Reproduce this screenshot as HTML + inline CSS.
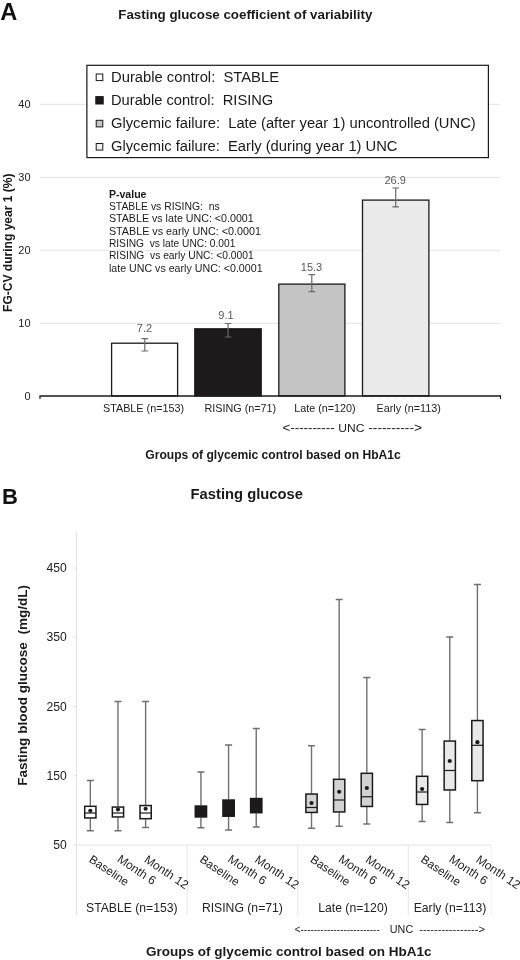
<!DOCTYPE html>
<html lang="en">
<head>
<meta charset="utf-8">
<title>Fasting glucose figure</title>
<style>
html,body{margin:0;padding:0;background:#ffffff;}
body{width:520px;height:960px;overflow:hidden;}
svg{display:block;font-family:'Liberation Sans', Arial, Helvetica, sans-serif;}
text{font-family:'Liberation Sans', Arial, Helvetica, sans-serif;white-space:pre;}
</style>
</head>
<body>
<svg width="520" height="960" viewBox="0 0 520 960">
<defs>
<pattern id="hatchA" width="2" height="2" patternUnits="userSpaceOnUse"><rect width="2" height="2" fill="#f1f1f1"/><path d="M-0.5 0.5L0.5 -0.5M0 2L2 0M1.5 2.5L2.5 1.5" stroke="#dcdcdc" stroke-width="0.6"/></pattern>
<pattern id="hatchB" width="2" height="2" patternUnits="userSpaceOnUse"><rect width="2" height="2" fill="#efefef"/><path d="M-0.5 0.5L0.5 -0.5M0 2L2 0M1.5 2.5L2.5 1.5" stroke="#d8d8d8" stroke-width="0.6"/></pattern>
</defs>
<rect width="520" height="960" fill="#ffffff"/>
<g id="panelA">
<text x="0.3" y="20" font-size="23.6" font-weight="bold" fill="#111">A</text>
<text x="118.3" y="19.2" font-size="13" font-weight="bold" fill="#1a1a1a" textLength="254" lengthAdjust="spacingAndGlyphs">Fasting glucose coefficient of variability</text>
<line x1="40" x2="500" y1="323.30" y2="323.30" stroke="#e3e3e3" stroke-width="1"/>
<line x1="40" x2="500" y1="250.30" y2="250.30" stroke="#e3e3e3" stroke-width="1"/>
<line x1="40" x2="500" y1="177.30" y2="177.30" stroke="#e3e3e3" stroke-width="1"/>
<line x1="40" x2="500" y1="104.30" y2="104.30" stroke="#e3e3e3" stroke-width="1"/>
<text x="30.6" y="399.59999999999997" font-size="11" text-anchor="end" fill="#222">0</text>
<text x="30.6" y="326.59999999999997" font-size="11" text-anchor="end" fill="#222">10</text>
<text x="30.6" y="253.59999999999997" font-size="11" text-anchor="end" fill="#222">20</text>
<text x="30.6" y="180.59999999999997" font-size="11" text-anchor="end" fill="#222">30</text>
<text x="30.6" y="107.59999999999998" font-size="11" text-anchor="end" fill="#222">40</text>
<text transform="translate(11.9,311.9) rotate(-90)" font-size="13" font-weight="bold" fill="#1a1a1a" textLength="138.4" lengthAdjust="spacingAndGlyphs">FG-CV during year 1 (%)</text>
<rect x="111.6" y="343.20" width="66.00" height="52.70" fill="#ffffff" stroke="#1a1a1a" stroke-width="1.3"/>
<path d="M144.80 338.60V351.00M141.50 338.60h6.6M141.50 351.00h6.6" stroke="#6a6a6a" stroke-width="1.2" fill="none"/>
<text x="144.50" y="332.40" font-size="11" text-anchor="middle" fill="#595959">7.2</text>
<text x="143.50" y="411.7" font-size="10.8" text-anchor="middle" fill="#222">STABLE (n=153)</text>
<rect x="194.8" y="328.80" width="66.40" height="67.10" fill="#1c1a1b" stroke="#1a1a1a" stroke-width="1.3"/>
<path d="M228.10 323.50V337.00M224.80 323.50h6.6M224.80 337.00h6.6" stroke="#6a6a6a" stroke-width="1.2" fill="none"/>
<text x="226.00" y="319.00" font-size="11" text-anchor="middle" fill="#595959">9.1</text>
<text x="240.30" y="411.7" font-size="10.8" text-anchor="middle" fill="#222">RISING (n=71)</text>
<rect x="278.8" y="284.10" width="66.10" height="111.80" fill="#c4c4c4" stroke="#1a1a1a" stroke-width="1.3"/>
<path d="M311.80 274.60V291.60M308.50 274.60h6.6M308.50 291.60h6.6" stroke="#6a6a6a" stroke-width="1.2" fill="none"/>
<text x="311.50" y="271.10" font-size="11" text-anchor="middle" fill="#595959">15.3</text>
<text x="324.90" y="411.7" font-size="10.8" text-anchor="middle" fill="#222">Late (n=120)</text>
<rect x="362.5" y="200.10" width="66.40" height="195.80" fill="url(#hatchA)" stroke="#1a1a1a" stroke-width="1.3"/>
<path d="M395.70 188.00V206.90M392.40 188.00h6.6M392.40 206.90h6.6" stroke="#6a6a6a" stroke-width="1.2" fill="none"/>
<text x="395.20" y="183.80" font-size="11" text-anchor="middle" fill="#595959">26.9</text>
<text x="408.70" y="411.7" font-size="10.8" text-anchor="middle" fill="#222">Early (n=113)</text>
<line x1="39.5" x2="501" y1="395.9" y2="395.9" stroke="#1a1a1a" stroke-width="1.5"/>
<line x1="40" x2="40" y1="395.9" y2="398.9" stroke="#1a1a1a" stroke-width="1.2"/>
<line x1="500.5" x2="500.5" y1="395.9" y2="398.9" stroke="#1a1a1a" stroke-width="1.2"/>
<rect x="86.9" y="65.3" width="401.5" height="92.3" fill="#ffffff" stroke="#1a1a1a" stroke-width="1.2"/>
<rect x="96.2" y="74.0" width="6.6" height="6.6" fill="#ffffff" stroke="#1a1a1a" stroke-width="1"/>
<text x="111" y="81.89999999999999" font-size="14.7" fill="#1a1a1a" xml:space="preserve" textLength="168" lengthAdjust="spacingAndGlyphs">Durable control:  STABLE</text>
<rect x="95.8" y="96.6" width="7.4" height="7.4" fill="#1c1a1b" stroke="#1a1a1a" stroke-width="1"/>
<text x="111" y="104.89999999999999" font-size="14.7" fill="#1a1a1a" xml:space="preserve" textLength="162.25" lengthAdjust="spacingAndGlyphs">Durable control:  RISING</text>
<rect x="96.2" y="120.3" width="6.6" height="6.6" fill="#c4c4c4" stroke="#1a1a1a" stroke-width="1"/>
<text x="111" y="128.2" font-size="14.7" fill="#1a1a1a" xml:space="preserve" textLength="364.75" lengthAdjust="spacingAndGlyphs">Glycemic failure:  Late (after year 1) uncontrolled (UNC)</text>
<rect x="96.2" y="143.5" width="6.6" height="6.6" fill="#f0f0f0" stroke="#1a1a1a" stroke-width="1"/>
<text x="111" y="151.4" font-size="14.7" fill="#1a1a1a" xml:space="preserve" textLength="286.5" lengthAdjust="spacingAndGlyphs">Glycemic failure:  Early (during year 1) UNC</text>
<text x="108.9" y="197.70" font-size="10.6" font-weight="bold" fill="#1a1a1a" xml:space="preserve" textLength="37.6" lengthAdjust="spacingAndGlyphs">P-value</text>
<text x="108.9" y="210.05" font-size="10.6" fill="#1a1a1a" xml:space="preserve" textLength="110.8" lengthAdjust="spacingAndGlyphs">STABLE vs RISING:  ns</text>
<text x="108.9" y="222.40" font-size="10.6" fill="#1a1a1a" xml:space="preserve" textLength="144.8" lengthAdjust="spacingAndGlyphs">STABLE vs late UNC: &lt;0.0001</text>
<text x="108.9" y="234.75" font-size="10.6" fill="#1a1a1a" xml:space="preserve" textLength="152" lengthAdjust="spacingAndGlyphs">STABLE vs early UNC: &lt;0.0001</text>
<text x="108.9" y="247.10" font-size="10.6" fill="#1a1a1a" xml:space="preserve" textLength="126.5" lengthAdjust="spacingAndGlyphs">RISING  vs late UNC: 0.001</text>
<text x="108.9" y="259.45" font-size="10.6" fill="#1a1a1a" xml:space="preserve" textLength="144.8" lengthAdjust="spacingAndGlyphs">RISING  vs early UNC: &lt;0.0001</text>
<text x="108.9" y="271.80" font-size="10.6" fill="#1a1a1a" xml:space="preserve" textLength="153.7" lengthAdjust="spacingAndGlyphs">late UNC vs early UNC: &lt;0.0001</text>
<text x="282.5" y="431.5" font-size="13" fill="#222" textLength="52.1" lengthAdjust="spacingAndGlyphs">&lt;----------</text>
<text x="338.2" y="431.7" font-size="11.6" fill="#222" textLength="26.2" lengthAdjust="spacingAndGlyphs">UNC</text>
<text x="368.3" y="431.5" font-size="13" fill="#222" textLength="53.7" lengthAdjust="spacingAndGlyphs">----------&gt;</text>
<text x="145.3" y="458.5" font-size="12" font-weight="bold" fill="#1a1a1a" textLength="255.5" lengthAdjust="spacingAndGlyphs">Groups of glycemic control based on HbA1c</text>
</g>
<g id="panelB">
<text x="2" y="503.5" font-size="22" font-weight="bold" fill="#111">B</text>
<text x="190.6" y="499.3" font-size="15.2" font-weight="bold" fill="#1a1a1a" textLength="112.3" lengthAdjust="spacingAndGlyphs">Fasting glucose</text>
<line x1="76.5" x2="76.5" y1="532" y2="915" stroke="#e4e4e4" stroke-width="1"/>
<line x1="76.5" x2="491.5" y1="845.0" y2="845.0" stroke="#e4e4e4" stroke-width="1"/>
<line x1="187.10" x2="187.10" y1="845.0" y2="915" stroke="#e4e4e4" stroke-width="1"/>
<line x1="297.70" x2="297.70" y1="845.0" y2="915" stroke="#e4e4e4" stroke-width="1"/>
<line x1="408.30" x2="408.30" y1="845.0" y2="915" stroke="#e4e4e4" stroke-width="1"/>
<line x1="491.3" x2="491.3" y1="845.0" y2="915" stroke="#ededed" stroke-width="1"/>
<text x="66.8" y="849.0" font-size="12.2" text-anchor="end" fill="#222">50</text>
<line x1="73" x2="76.5" y1="845.00" y2="845.00" stroke="#e4e4e4" stroke-width="1"/>
<text x="66.8" y="779.75" font-size="12.2" text-anchor="end" fill="#222">150</text>
<line x1="73" x2="76.5" y1="775.75" y2="775.75" stroke="#e4e4e4" stroke-width="1"/>
<text x="66.8" y="710.5" font-size="12.2" text-anchor="end" fill="#222">250</text>
<line x1="73" x2="76.5" y1="706.50" y2="706.50" stroke="#e4e4e4" stroke-width="1"/>
<text x="66.8" y="641.25" font-size="12.2" text-anchor="end" fill="#222">350</text>
<line x1="73" x2="76.5" y1="637.25" y2="637.25" stroke="#e4e4e4" stroke-width="1"/>
<text x="66.8" y="572.0" font-size="12.2" text-anchor="end" fill="#222">450</text>
<line x1="73" x2="76.5" y1="568.00" y2="568.00" stroke="#e4e4e4" stroke-width="1"/>
<text transform="translate(26.7,785.75) rotate(-90)" font-size="13.5" font-weight="bold" fill="#1a1a1a" xml:space="preserve" textLength="200.75" lengthAdjust="spacingAndGlyphs">Fasting blood glucose  (mg/dL)</text>
<path d="M90.33 780.5V805.75M90.33 818.5V830.75M86.83 780.5h7M86.83 830.75h7" stroke="#707070" stroke-width="1.4" fill="none"/>
<rect x="84.70" y="806.30" width="11.25" height="11.65" fill="#ffffff" stroke="#1a1a1a" stroke-width="1.5"/>
<line x1="84.70" x2="95.95" y1="813" y2="813" stroke="#1a1a1a" stroke-width="1.2"/>
<circle cx="90.33" cy="810.75" r="2.1" fill="#1a1a1a"/>
<path d="M117.97 701.5V806.5M117.97 817.5V830.75M114.47 701.5h7M114.47 830.75h7" stroke="#707070" stroke-width="1.4" fill="none"/>
<rect x="112.35" y="807.05" width="11.25" height="9.90" fill="#ffffff" stroke="#1a1a1a" stroke-width="1.5"/>
<line x1="112.35" x2="123.60" y1="813" y2="813" stroke="#1a1a1a" stroke-width="1.2"/>
<circle cx="117.97" cy="809.5" r="2.1" fill="#1a1a1a"/>
<path d="M145.62 701.5V805M145.62 819.25V827.5M142.12 701.5h7M142.12 827.5h7" stroke="#707070" stroke-width="1.4" fill="none"/>
<rect x="140.00" y="805.55" width="11.25" height="13.15" fill="#ffffff" stroke="#1a1a1a" stroke-width="1.5"/>
<line x1="140.00" x2="151.25" y1="813" y2="813" stroke="#1a1a1a" stroke-width="1.2"/>
<circle cx="145.62" cy="808.75" r="2.1" fill="#1a1a1a"/>
<path d="M200.93 772V805.5M200.93 817.5V827.75M197.43 772h7M197.43 827.75h7" stroke="#707070" stroke-width="1.4" fill="none"/>
<rect x="195.30" y="806.05" width="11.25" height="10.90" fill="#1c1a1b" stroke="#1a1a1a" stroke-width="1.5"/>
<path d="M228.57 745V799.5M228.57 816.75V830M225.07 745h7M225.07 830h7" stroke="#707070" stroke-width="1.4" fill="none"/>
<rect x="222.95" y="800.05" width="11.25" height="16.15" fill="#1c1a1b" stroke="#1a1a1a" stroke-width="1.5"/>
<path d="M256.23 728.5V798M256.23 813.25V827M252.73 728.5h7M252.73 827h7" stroke="#707070" stroke-width="1.4" fill="none"/>
<rect x="250.60" y="798.55" width="11.25" height="14.15" fill="#1c1a1b" stroke="#1a1a1a" stroke-width="1.5"/>
<path d="M311.52 745.75V793.5M311.52 813V828.25M308.02 745.75h7M308.02 828.25h7" stroke="#707070" stroke-width="1.4" fill="none"/>
<rect x="305.90" y="794.05" width="11.25" height="18.40" fill="#d2d2d2" stroke="#1a1a1a" stroke-width="1.5"/>
<line x1="305.90" x2="317.15" y1="807.5" y2="807.5" stroke="#1a1a1a" stroke-width="1.2"/>
<circle cx="311.52" cy="803" r="2.1" fill="#1a1a1a"/>
<path d="M339.18 599.5V778.75M339.18 812.5V826.25M335.68 599.5h7M335.68 826.25h7" stroke="#707070" stroke-width="1.4" fill="none"/>
<rect x="333.55" y="779.30" width="11.25" height="32.65" fill="#d2d2d2" stroke="#1a1a1a" stroke-width="1.5"/>
<line x1="333.55" x2="344.80" y1="800" y2="800" stroke="#1a1a1a" stroke-width="1.2"/>
<circle cx="339.18" cy="791.75" r="2.1" fill="#1a1a1a"/>
<path d="M366.82 677.5V772.75M366.82 807V824M363.32 677.5h7M363.32 824h7" stroke="#707070" stroke-width="1.4" fill="none"/>
<rect x="361.20" y="773.30" width="11.25" height="33.15" fill="#d2d2d2" stroke="#1a1a1a" stroke-width="1.5"/>
<line x1="361.20" x2="372.45" y1="796.75" y2="796.75" stroke="#1a1a1a" stroke-width="1.2"/>
<circle cx="366.82" cy="788" r="2.1" fill="#1a1a1a"/>
<path d="M422.12 729.5V775.75M422.12 805V821.5M418.62 729.5h7M418.62 821.5h7" stroke="#707070" stroke-width="1.4" fill="none"/>
<rect x="416.50" y="776.30" width="11.25" height="28.15" fill="url(#hatchB)" stroke="#1a1a1a" stroke-width="1.5"/>
<line x1="416.50" x2="427.75" y1="792" y2="792" stroke="#1a1a1a" stroke-width="1.2"/>
<circle cx="422.12" cy="789" r="2.1" fill="#1a1a1a"/>
<path d="M449.77 637V740.5M449.77 790.5V822.5M446.27 637h7M446.27 822.5h7" stroke="#707070" stroke-width="1.4" fill="none"/>
<rect x="444.15" y="741.05" width="11.25" height="48.90" fill="url(#hatchB)" stroke="#1a1a1a" stroke-width="1.5"/>
<line x1="444.15" x2="455.40" y1="770.5" y2="770.5" stroke="#1a1a1a" stroke-width="1.2"/>
<circle cx="449.77" cy="761" r="2.1" fill="#1a1a1a"/>
<path d="M477.42 584.5V720M477.42 781.25V812.75M473.92 584.5h7M473.92 812.75h7" stroke="#707070" stroke-width="1.4" fill="none"/>
<rect x="471.80" y="720.55" width="11.25" height="60.15" fill="url(#hatchB)" stroke="#1a1a1a" stroke-width="1.5"/>
<line x1="471.80" x2="483.05" y1="745.3" y2="745.3" stroke="#1a1a1a" stroke-width="1.2"/>
<circle cx="477.42" cy="742.2" r="2.1" fill="#1a1a1a"/>
<text transform="translate(88.30,861.3) rotate(34)" font-size="11.7" fill="#222">Baseline</text>
<text transform="translate(116.50,860.9) rotate(34)" font-size="12" fill="#222">Month 6</text>
<text transform="translate(143.50,861.4) rotate(34)" font-size="12" fill="#222">Month 12</text>
<text transform="translate(198.90,861.3) rotate(34)" font-size="11.7" fill="#222">Baseline</text>
<text transform="translate(227.10,860.9) rotate(34)" font-size="12" fill="#222">Month 6</text>
<text transform="translate(254.10,861.4) rotate(34)" font-size="12" fill="#222">Month 12</text>
<text transform="translate(309.50,861.3) rotate(34)" font-size="11.7" fill="#222">Baseline</text>
<text transform="translate(337.70,860.9) rotate(34)" font-size="12" fill="#222">Month 6</text>
<text transform="translate(364.70,861.4) rotate(34)" font-size="12" fill="#222">Month 12</text>
<text transform="translate(420.10,861.3) rotate(34)" font-size="11.7" fill="#222">Baseline</text>
<text transform="translate(448.30,860.9) rotate(34)" font-size="12" fill="#222">Month 6</text>
<text transform="translate(475.30,861.4) rotate(34)" font-size="12" fill="#222">Month 12</text>
<text x="131.80" y="911.7" font-size="12.2" text-anchor="middle" fill="#222">STABLE (n=153)</text>
<text x="242.40" y="911.7" font-size="12.2" text-anchor="middle" fill="#222">RISING (n=71)</text>
<text x="353.00" y="911.7" font-size="12.2" text-anchor="middle" fill="#222">Late (n=120)</text>
<text x="450.00" y="911.7" font-size="12.2" text-anchor="middle" fill="#222">Early (n=113)</text>
<text x="294.8" y="932.6" font-size="11.5" fill="#222" textLength="84.9" lengthAdjust="spacingAndGlyphs">&lt;------------------------</text>
<text x="389.8" y="932.6" font-size="11.5" fill="#222" textLength="23.4" lengthAdjust="spacingAndGlyphs">UNC</text>
<text x="419.2" y="932.6" font-size="11.5" fill="#222" textLength="65.8" lengthAdjust="spacingAndGlyphs">----------------&gt;</text>
<text x="146" y="955.6" font-size="13.4" font-weight="bold" fill="#1a1a1a" textLength="285.5" lengthAdjust="spacingAndGlyphs">Groups of glycemic control based on HbA1c</text>
</g>
</svg>
</body>
</html>
